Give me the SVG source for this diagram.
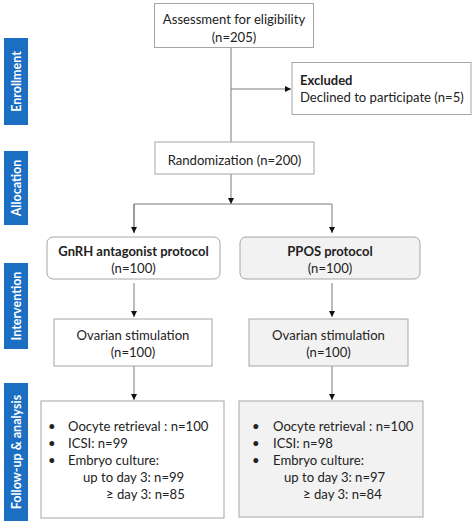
<svg xmlns="http://www.w3.org/2000/svg" width="474" height="523" viewBox="0 0 474 523">
<defs>
<style>
text{font-family:Lato,"Open Sans","Noto Sans",sans-serif;font-size:13.1px;fill:#222}
.box{fill:#fff;stroke:#a6a6a6;stroke-width:1}
.gray{fill:#f2f2f2}
.lab{fill:#1b6ec2}
.labt{fill:#fff;font-weight:bold;font-size:12.5px}
.b{font-weight:bold;font-size:13px}
.c{text-anchor:middle}
.con{stroke:#7a7a7a;stroke-width:1;fill:none}
</style>
<marker id="ah" viewBox="0 0 6 6" refX="6" refY="3" markerWidth="6" markerHeight="6" orient="auto" markerUnits="userSpaceOnUse">
<path d="M0,0 L6,3 L0,6 z" fill="#111"/>
</marker>
</defs>
<rect width="474" height="523" fill="#fff"/>

<g id="label-enrollment"><rect class="lab" x="4" y="38" width="24" height="87"/><text class="labt c" transform="translate(20.5,81.5) rotate(-90)">Enrollment</text></g>
<g id="label-allocation"><rect class="lab" x="4" y="151" width="24" height="74"/><text class="labt c" transform="translate(20.5,188) rotate(-90)">Allocation</text></g>
<g id="label-intervention"><rect class="lab" x="4" y="263" width="24" height="86"/><text class="labt c" transform="translate(20.5,306) rotate(-90)">Intervention</text></g>
<g id="label-followup"><rect class="lab" x="4" y="383" width="24" height="138"/><text class="labt c" transform="translate(20.5,452) rotate(-90)">Follow-up &amp; analysis</text></g>

<g id="connectors">
<line class="con" x1="231" y1="47" x2="231" y2="142"/>
<line class="con" x1="231" y1="89" x2="291" y2="89" marker-end="url(#ah)"/>
<line class="con" x1="231" y1="174" x2="231" y2="204" marker-end="url(#ah)"/>
<polyline class="con" points="134,233 134,204 332,204 332,233" marker-end="url(#ah)"/>
<line class="con" x1="134" y1="204" x2="134" y2="233" marker-end="url(#ah)"/>
<line class="con" x1="134" y1="283" x2="134" y2="317" marker-end="url(#ah)"/>
<line class="con" x1="332" y1="283" x2="332" y2="317" marker-end="url(#ah)"/>
<line class="con" x1="134" y1="366" x2="134" y2="400" marker-end="url(#ah)"/>
<line class="con" x1="332" y1="366" x2="332" y2="400" marker-end="url(#ah)"/>
</g>

<g id="assessment"><rect class="box" x="154.5" y="3.5" width="159" height="44"/><text class="c" x="234" y="24">Assessment for eligibility</text><text class="c" x="234" y="42">(n=205)</text></g>
<g id="excluded"><rect class="box" x="292" y="62.5" width="179" height="52"/><text class="b" x="300" y="85">Excluded</text><text x="300" y="102">Declined to participate (n=5)</text></g>
<g id="randomization"><rect class="box" x="155" y="142" width="159" height="32"/><text class="c" x="234.5" y="165">Randomization (n=200)</text></g>

<g id="gnrh"><rect class="box" x="47" y="237" width="173" height="42" rx="6"/><text class="b c" x="133.5" y="256">GnRH antagonist protocol</text><text class="c" x="133.5" y="273">(n=100)</text></g>
<g id="ppos"><rect class="box gray" x="240" y="237" width="180" height="42" rx="6"/><text class="b c" x="330" y="256">PPOS protocol</text><text class="c" x="330" y="273">(n=100)</text></g>

<g id="ovarian-left"><rect class="box" x="54" y="319" width="158" height="47"/><text class="c" x="133" y="340">Ovarian stimulation</text><text class="c" x="133" y="357">(n=100)</text></g>
<g id="ovarian-right"><rect class="box gray" x="249" y="319" width="159" height="47"/><text class="c" x="328.5" y="340">Ovarian stimulation</text><text class="c" x="328.5" y="357">(n=100)</text></g>

<g id="followup-left"><rect class="box" x="41" y="401" width="183" height="117"/>
<text x="48" y="431">•</text><text x="68" y="431">Oocyte retrieval : n=100</text>
<text x="48" y="448">•</text><text x="68" y="448">ICSI: n=99</text>
<text x="48" y="465">•</text><text x="68" y="465">Embryo culture:</text>
<text x="83" y="482">up to day 3: n=99</text>
<text x="106" y="499">≥ day 3: n=85</text>
</g>
<g id="followup-right"><rect class="box gray" x="239" y="401" width="184" height="116"/>
<text x="252" y="431">•</text><text x="273" y="431">Oocyte retrieval : n=100</text>
<text x="252" y="448">•</text><text x="273" y="448">ICSI: n=98</text>
<text x="252" y="465">•</text><text x="273" y="465">Embryo culture:</text>
<text x="284" y="482">up to day 3: n=97</text>
<text x="303" y="499">≥ day 3: n=84</text>
</g>
</svg>
